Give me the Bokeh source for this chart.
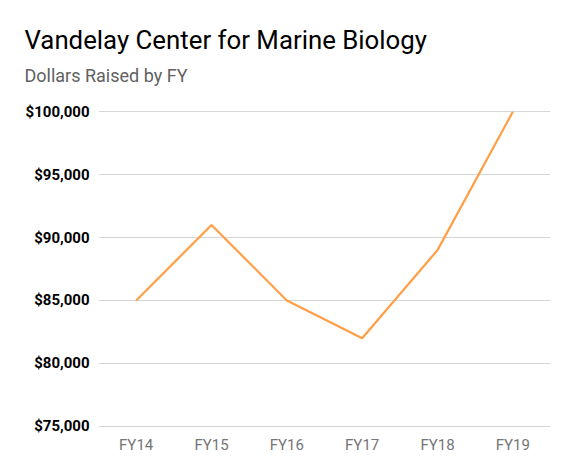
from bokeh.plotting import figure
from bokeh.models import Range1d, NumeralTickFormatter, Title, FixedTicker
from bokeh.embed import file_html
from bokeh.resources import INLINE

years = ["FY14", "FY15", "FY16", "FY17", "FY18", "FY19"]
raised = [85000, 91000, 85000, 82000, 89000, 100000]
y_ticks = [75000, 80000, 85000, 90000, 95000, 100000]
title_text = "Vandelay Center for Marine Biology"
subtitle_text = "Dollars Raised by FY"

p = figure(x_range=years, y_range=Range1d(74900, 100100),
           width=574, height=476, output_backend="svg", toolbar_location=None,
           min_border_left=98, min_border_right=24, min_border_top=110,
           min_border_bottom=49)
p.title = None

# spacer between the subtitle and the plot frame
p.add_layout(Title(text=" ", text_font="Roboto", text_font_size="10px",
                   standoff=12), "above")
p.add_layout(Title(text=subtitle_text, text_font="Roboto", text_font_size="18px",
                   text_font_style="normal", text_color="#616161", offset=-74,
                   standoff=0), "above")
p.add_layout(Title(text=title_text, text_font="Roboto",
                   text_font_size="25.8px", text_font_style="normal", text_color="#000000",
                   offset=-74, standoff=15), "above")

p.line(x=years, y=raised, line_color="#ff9e45", line_width=2.2)

p.outline_line_color = None
p.xgrid.grid_line_color = None
p.ygrid.grid_line_color = "#d6d6d6"
p.ygrid.grid_line_width = 1

p.yaxis.ticker = FixedTicker(ticks=y_ticks)
p.yaxis.formatter = NumeralTickFormatter(format="$0,0")
p.yaxis.axis_line_color = None
p.yaxis.major_tick_line_color = None
p.yaxis.minor_tick_line_color = None
p.yaxis.major_tick_out = 0
p.yaxis.minor_tick_out = 0
p.yaxis.major_label_text_font = "Roboto"
p.yaxis.major_label_text_font_size = "15px"
p.yaxis.major_label_text_font_style = "bold"
p.yaxis.major_label_text_color = "#000000"
p.yaxis.major_label_standoff = 9

p.xaxis.axis_line_color = None
p.xaxis.major_tick_line_color = None
p.xaxis.minor_tick_line_color = None
p.xaxis.major_tick_out = 0
p.xaxis.minor_tick_out = 0
p.xaxis.major_label_text_font = "Roboto"
p.xaxis.major_label_text_font_size = "15px"
p.xaxis.major_label_text_color = "#757575"
p.xaxis.major_label_standoff = 8

open("out.html", "w").write(file_html(p, INLINE))
